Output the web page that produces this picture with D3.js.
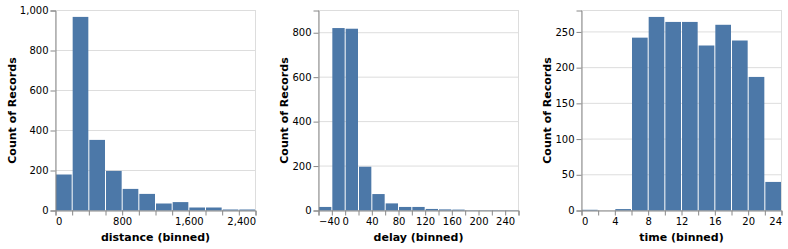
<!DOCTYPE html>
<html>
<head>
<meta charset="utf-8">
<script src="https://cdn.jsdelivr.net/npm/d3@7"></script>
<style>
  body { margin: 0; background: #fff; }
  svg { display: block; font-family: "DejaVu Sans", sans-serif; }
</style>
</head>
<body>
<svg id="chart" width="788" height="249"></svg>
<script>
// distance histogram, bins of 200
var distanceStarts = [0, 200, 400, 600, 800, 1000, 1200, 1400, 1600, 1800, 2000, 2200];
var distanceCounts = [180, 968, 353, 198, 108, 83, 35, 42, 15, 15, 5, 5];
var distanceTicks = [0, 800, 1600, 2400];

// delay histogram, bins of 20
var delayStarts = [-40, -20, 0, 20, 40, 60, 80, 100, 120, 140, 160, 180, 200, 220, 240];
var delayCounts = [16, 821, 818, 197, 74, 32, 16, 16, 7, 5, 4, 1, 1, 1, 1];
var delayTicks = [-40, 0, 40, 80, 120, 160, 200, 240];

// time histogram, bins of 2
var timeStarts = [0, 2, 4, 6, 8, 10, 12, 14, 16, 18, 20, 22];
var timeCounts = [1, 0, 2, 242, 271, 264, 264, 231, 260, 238, 187, 40];
var timeTicks = [0, 4, 8, 12, 16, 20, 24];

var panels = [
  {x: 55.5, starts: distanceStarts, counts: distanceCounts, step: 200, labels: distanceTicks,
   yMax: 1000, yStep: 200, title: "distance (binned)", yTitleX: 16},
  {x: 318.5, starts: delayStarts, counts: delayCounts, step: 20, labels: delayTicks,
   yMax: 900, yStep: 200, title: "delay (binned)", yTitleX: 288},
  {x: 581.5, starts: timeStarts, counts: timeCounts, step: 2, labels: timeTicks,
   yMax: 280, yStep: 50, title: "time (binned)", yTitleX: 551}
];

var W = 200, H = 200, plotTop = 10.5;
var svg = d3.select("#chart");
var fmt = d3.format(",");

panels.forEach(function(p){
  var lo = p.starts[0], hi = p.starts[p.starts.length - 1] + p.step;
  var x = d3.scaleLinear().domain([lo, hi]).range([0, W]);
  var y = d3.scaleLinear().domain([0, p.yMax]).range([H, 0]);

  var g = svg.append("g").attr("transform", "translate(" + p.x + "," + plotTop + ")");

  // view frame
  g.append("rect")
    .attr("width", W).attr("height", H)
    .attr("fill", "none").attr("stroke", "#ddd");

  // grid
  var yt = d3.range(0, p.yMax + 1, p.yStep);
  g.append("g").selectAll("line").data(yt).enter().append("line")
    .attr("x1", 0).attr("x2", W)
    .attr("y1", function(d){ return y(d); }).attr("y2", function(d){ return y(d); })
    .attr("stroke", "#ddd");

  // bars
  g.append("g").selectAll("rect").data(p.starts).enter().append("rect")
    .attr("x", function(d){ return x(d) + 0.5; })
    .attr("width", function(d){ return Math.max(0, x(d + p.step) - x(d) - 1); })
    .attr("y", function(d, i){ return y(p.counts[i]); })
    .attr("height", function(d, i){ return H - y(p.counts[i]); })
    .attr("fill", "#4c78a8");

  // x axis: ticks on every bin edge, labels on selected ones
  var edges = p.starts.concat([hi]);
  var xAxis = d3.axisBottom(x).tickValues(edges).tickSize(5).tickPadding(2)
    .tickFormat(function(d){ return p.labels.indexOf(d) >= 0 ? fmt(d) : ""; });
  var xa = g.append("g").attr("transform", "translate(0," + H + ")").call(xAxis);
  xa.selectAll("text")
    .attr("text-anchor", function(d){ return d == lo ? "start" : (d == hi ? "end" : "middle"); });

  var yAxis = d3.axisLeft(y).tickValues(yt).tickSize(5).tickPadding(2).tickFormat(fmt);
  var ya = g.append("g").call(yAxis);

  [xa, ya].forEach(function(a){
    a.select(".domain").attr("stroke", "#888");
    a.selectAll(".tick line").attr("stroke", "#888");
    a.selectAll("text").attr("fill", "#000").style("font-size", "10px")
      .style("font-family", "DejaVu Sans, sans-serif");
  });
  ya.selectAll("text").attr("dy", "0.32em");

  g.append("text")
    .attr("x", W / 2).attr("y", H + 30)
    .attr("text-anchor", "middle")
    .style("font-size", "11px").style("font-weight", "bold")
    .text(p.title);

  svg.append("text")
    .attr("transform", "translate(" + p.yTitleX + "," + (plotTop + H / 2) + ") rotate(-90)")
    .attr("text-anchor", "middle")
    .style("font-size", "11px").style("font-weight", "bold")
    .text("Count of Records");
});
</script>
</body>
</html>
